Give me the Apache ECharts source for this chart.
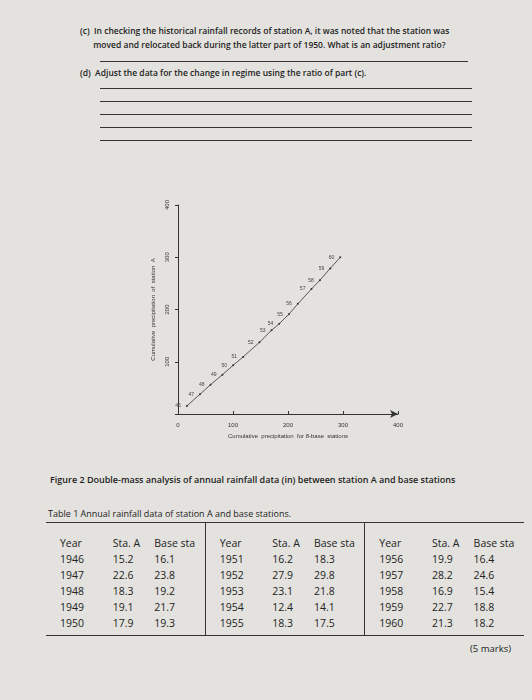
<!DOCTYPE html>
<html><head><meta charset="utf-8">
<script src="https://cdn.jsdelivr.net/npm/echarts@6/dist/echarts.min.js"></script>
<style>
body{margin:0;width:532px;height:700px;background:#e4e2de;font-family:"Open Sans",sans-serif;color:#222;position:relative;overflow:hidden}
.t{position:absolute;font-weight:600}
.rule{position:absolute;height:1px;background:#333}
table{border-collapse:collapse;font-size:10px}
td{padding:1px 0;text-align:left}
</style></head><body>
<div class="t" style="left:80px;top:24px;font-size:8.5px;line-height:14px">(c)&nbsp; In checking the historical rainfall records of station A, it was noted that the station was<br>&nbsp;&nbsp;&nbsp;&nbsp;&nbsp; moved and relocated back during the latter part of 1950. What is an adjustment ratio?</div>
<div class="rule" style="left:100px;top:61px;width:368px"></div>
<div class="t" style="left:80px;top:67px;font-size:8.5px">(d)&nbsp; Adjust the data for the change in regime using the ratio of part (c).</div>
<div class="rule" style="left:100px;top:88px;width:372px"></div>
<div class="rule" style="left:100px;top:101px;width:372px"></div>
<div class="rule" style="left:100px;top:114px;width:372px"></div>
<div class="rule" style="left:100px;top:127px;width:372px"></div>
<div class="rule" style="left:100px;top:140px;width:372px"></div>
<div id="c" style="position:absolute;left:130px;top:170px;width:320px;height:280px"></div>
<div class="t" style="left:50px;top:473px;font-size:9px">Figure 2 Double-mass analysis of annual rainfall data (in) between station A and base stations</div>
<div class="t" style="left:48px;top:507px;font-size:9px;font-weight:500">Table 1 Annual rainfall data of station A and base stations.</div>
<div id="tbl" style="position:absolute;left:46px;top:522px;width:478px;border-top:1px solid #333;border-bottom:1px solid #333"></div>
<div class="t" style="left:470px;top:642px;font-size:9.5px;font-weight:500">(5 marks)</div>
<script>
const years=[1946,1947,1948,1949,1950,1951,1952,1953,1954,1955,1956,1957,1958,1959,1960];
const staA=[15.2,22.6,18.3,19.1,17.9,16.2,27.9,23.1,12.4,18.3,19.9,28.2,16.9,22.7,21.3];
const baseSta=[16.1,23.8,19.2,21.7,19.3,18.3,29.8,21.8,14.1,17.5,16.4,24.6,15.4,18.8,18.2];
// table
let h='<table style="width:100%"><tr>';
for(let g=0;g<3;g++){
  h+='<td style="vertical-align:top;'+(g<2?'border-right:1px solid #333;':'')+'padding:12px 6px 4px 14px"><table style="width:100%;font-size:10.5px;table-layout:fixed"><tr><td style="width:38%">Year</td><td style="width:30%">Sta. A</td><td>Base sta</td></tr>';
  for(let i=g*5;i<g*5+5;i++)h+=`<tr><td>${years[i]}</td><td>${staA[i]}</td><td>${baseSta[i]}</td></tr>`;
  h+='</table></td>';
}
document.getElementById('tbl').innerHTML=h+'</tr></table>';
// cumulative
let ca=0,cb=0;const pts=years.map((y,i)=>{ca+=staA[i];cb+=baseSta[i];return [cb,ca,String(y).slice(2)];});
const ch=echarts.init(document.getElementById('c'));
ch.setOption({
  grid:{left:48,right:52,top:35,bottom:36},
  xAxis:{type:'value',min:0,max:400,interval:100,splitLine:{show:false},
    axisLine:{lineStyle:{color:'#333'},symbol:['none','arrow'],symbolSize:[6,8]},axisTick:{show:true,inside:true,length:3},
    axisLabel:{fontSize:6,color:'#333',formatter:v=>v===0?'0':v},
    name:'Cumulative  precipitation  for 8-base  stations',nameLocation:'middle',nameGap:14,nameTextStyle:{fontSize:6,color:'#333'}},
  yAxis:{type:'value',min:0,max:400,interval:100,splitLine:{show:false},
    axisLine:{show:true,lineStyle:{color:'#333'}},axisTick:{show:true,length:3},
    axisLabel:{fontSize:6,color:'#333',rotate:90,formatter:v=>v===0?'':v},
    name:'Cumulative  precipitation  of  station  A',nameLocation:'middle',nameGap:14,nameTextStyle:{fontSize:6,color:'#333'}},
  series:[{type:'line',data:pts,symbol:'circle',symbolSize:2,lineStyle:{color:'#333',width:0.8},itemStyle:{color:'#333'},
    label:{show:true,formatter:p=>p.data[2],fontSize:5,color:'#444',position:'left'}}]
});
</script></body></html>
